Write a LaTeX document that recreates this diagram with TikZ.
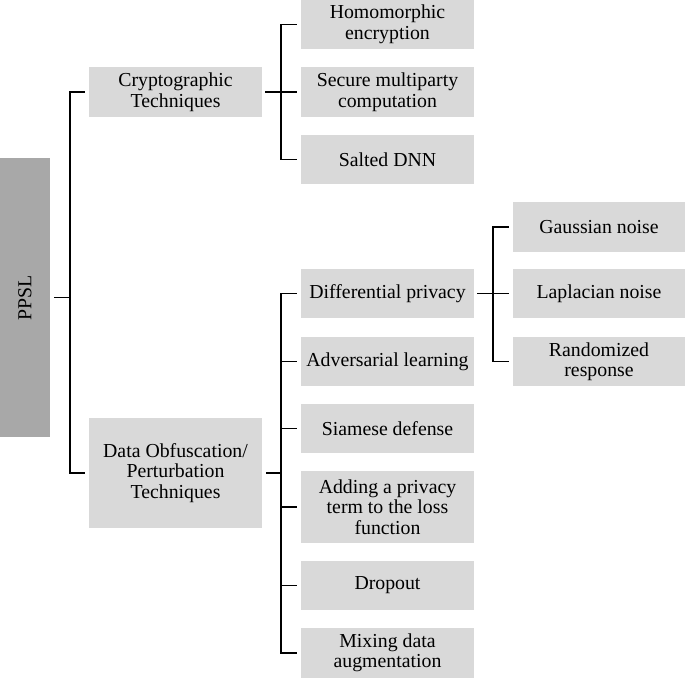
\documentclass[tikz,border=0pt]{standalone}
\usepackage{fontspec}
\setmainfont{Liberation Serif}
\begin{document}
\begin{tikzpicture}[x=1pt,y=-1pt,
  box/.style={fill=boxgray,draw=none,inner sep=0pt,align=center,font=\fontsize{19.8}{20.5}\selectfont},
  conn/.style={draw=black,line width=1.5pt}]
\definecolor{boxgray}{HTML}{D9D9D9}
\definecolor{rootgray}{HTML}{A8A8A8}
\useasboundingbox (0,0) rectangle (685,678);
% root
\node[box,fill=rootgray,minimum width=50pt,minimum height=279pt] (ppsl) at (25,297.5) {\rotatebox{90}{PPSL}};
% level 1
\node[box,minimum width=173pt,minimum height=50pt] (crypto) at (175.5,92) {Cryptographic\\Techniques};
\node[box,minimum width=173pt,minimum height=110pt] (data) at (175.5,473) {Data Obfuscation/\\Perturbation\\Techniques};
% crypto children
\node[box,minimum width=173pt,minimum height=49pt] (homo) at (387.5,24.5) {Homomorphic\\encryption};
\node[box,minimum width=173pt,minimum height=50pt] (secure) at (387.5,92) {Secure multiparty\\computation};
\node[box,minimum width=173pt,minimum height=49pt] (salted) at (387.5,159.5) {Salted DNN};
% data children
\node[box,minimum width=173pt,minimum height=49pt] (dp) at (387.5,293.5) {Differential privacy};
\node[box,minimum width=173pt,minimum height=49pt] (adv) at (387.5,361.5) {Adversarial learning};
\node[box,minimum width=173pt,minimum height=49pt] (siam) at (387.5,428.5) {Siamese defense};
\node[box,minimum width=173pt,minimum height=72pt] (add) at (387.5,507) {Adding a privacy\\term to the loss\\function};
\node[box,minimum width=173pt,minimum height=49pt] (drop) at (387.5,585.5) {Dropout};
\node[box,minimum width=173pt,minimum height=50pt] (mix) at (387.5,653) {Mixing data\\augmentation};
% dp children
\node[box,minimum width=172pt,minimum height=50pt] (gauss) at (599,227) {Gaussian noise};
\node[box,minimum width=172pt,minimum height=49pt] (lap) at (599,293.5) {Laplacian noise};
\node[box,minimum width=172pt,minimum height=49pt] (rand) at (599,361.5) {Randomized\\response};
% connectors: root
\draw[conn] ([xshift=4pt]ppsl.east) -- ++(16,0);
\draw[conn] ([xshift=-4pt]crypto.west) -- ++(-15,0) |- ([xshift=-4pt]data.west);
% crypto
\draw[conn] ([xshift=3pt]crypto.east) -- ++(16,0);
\draw[conn] ([xshift=-4pt]homo.west) -- ++(-16,0) |- ([xshift=-4pt]salted.west);
\draw[conn] ([xshift=-4pt]secure.west) -- ++(-16,0);
% data
\draw[conn] ([xshift=4pt]data.east) -- ++(15,0);
\draw[conn] ([xshift=-4pt]dp.west) -- ++(-16,0) |- ([xshift=-4pt]mix.west);
\draw[conn] ([xshift=-4pt]adv.west) -- ++(-16,0);
\draw[conn] ([xshift=-4pt]siam.west) -- ++(-16,0);
\draw[conn] ([xshift=-4pt]add.west) -- ++(-16,0);
\draw[conn] ([xshift=-4pt]drop.west) -- ++(-16,0);
% dp
\draw[conn] ([xshift=3pt]dp.east) -- ++(16,0);
\draw[conn] ([xshift=-4pt]gauss.west) -- ++(-16,0) |- ([xshift=-4pt]rand.west);
\draw[conn] ([xshift=-4pt]lap.west) -- ++(-16,0);
\end{tikzpicture}
\end{document}
